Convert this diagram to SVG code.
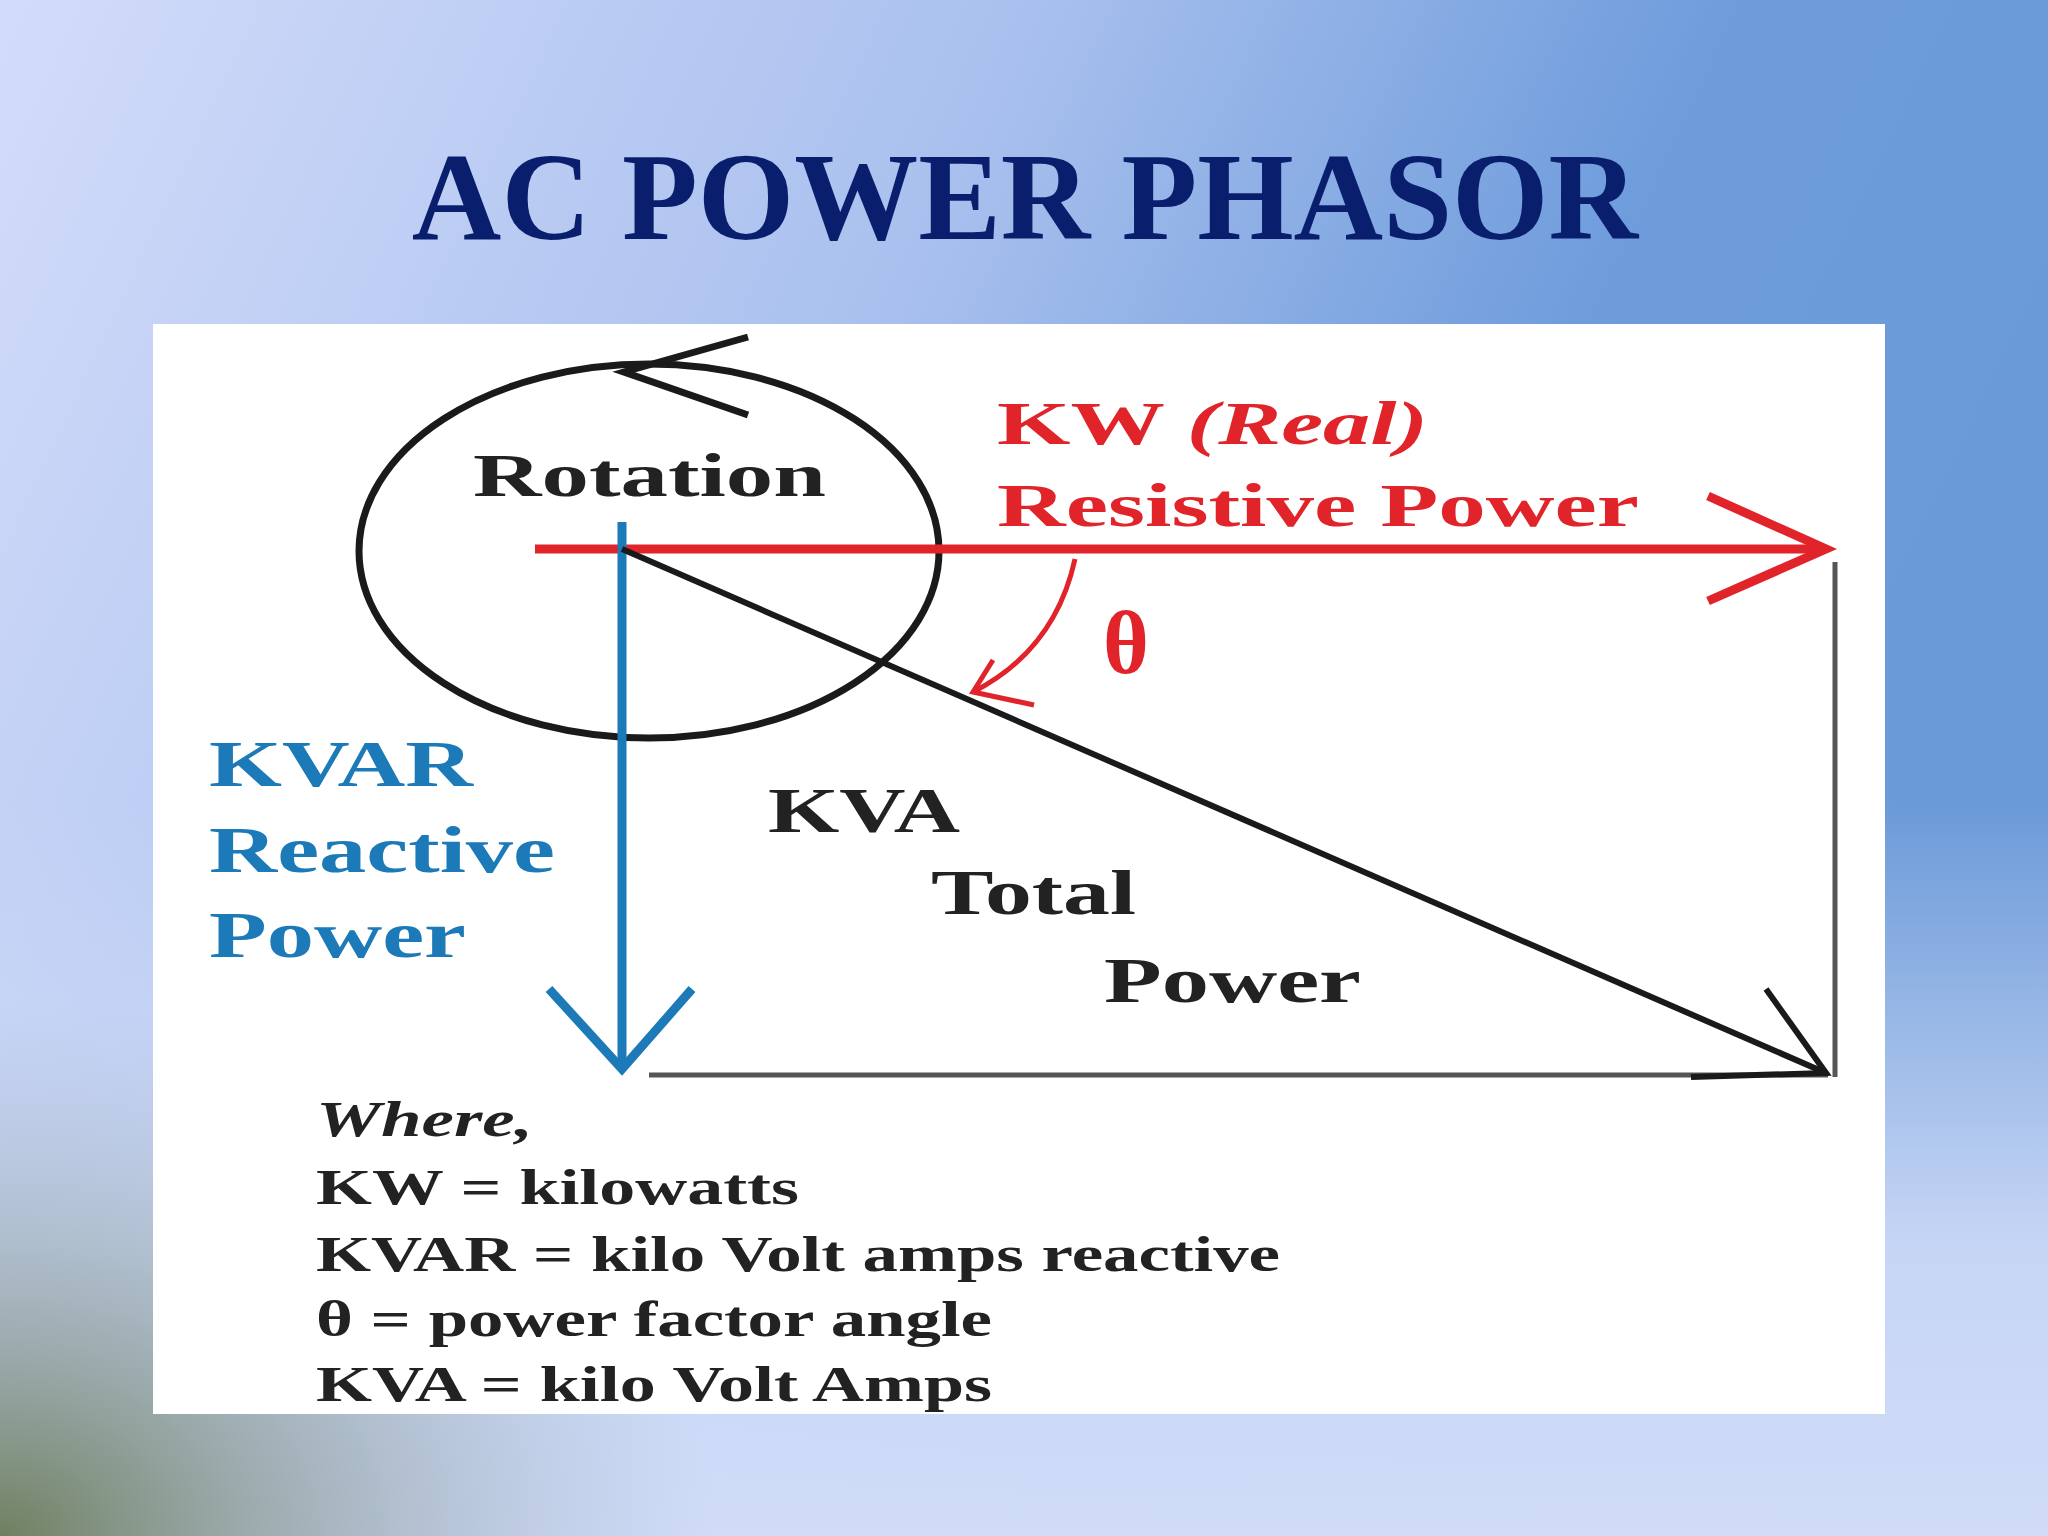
<svg xmlns="http://www.w3.org/2000/svg" width="2048" height="1536" viewBox="0 0 2048 1536">
<defs>
<linearGradient id="bg" x1="0" y1="0" x2="1" y2="0.35">
<stop offset="0" stop-color="#d3dcfa"/><stop offset="0.45" stop-color="#a9c0ee"/><stop offset="0.75" stop-color="#6f9ddc"/><stop offset="1" stop-color="#6b9ad8"/>
</linearGradient>
<linearGradient id="bot" x1="0" y1="0" x2="0" y2="1">
<stop offset="0" stop-color="#d0dcf8" stop-opacity="0"/><stop offset="0.6" stop-color="#d0dcf8" stop-opacity="0.9"/><stop offset="1" stop-color="#d0dcf8"/>
</linearGradient>
<radialGradient id="corner" cx="0" cy="1" r="0.35">
<stop offset="0" stop-color="#6f8060"/><stop offset="1" stop-color="#a0b0c8" stop-opacity="0"/>
</radialGradient>
<style>
.t{font-family:"Liberation Serif",serif;font-weight:bold}
.red{fill:#e0242a}.blue{fill:#1c7ab8}.blk{fill:#222}
</style>
</defs>
<rect width="2048" height="1536" fill="url(#bg)"/>
<rect y="800" width="2048" height="736" fill="url(#bot)"/>
<rect width="2048" height="1536" fill="url(#corner)"/>
<text x="1025" y="239" text-anchor="middle" class="t" font-size="124" fill="#0a1e6e">AC POWER PHASOR</text>
<rect x="153" y="324" width="1732" height="1090" fill="#fff"/>
<g id="rotation" fill="none" stroke="#1a1a1a" stroke-width="7">
<ellipse cx="649" cy="551" rx="290" ry="187"/>
<polyline points="748,337 624,372 748,415"/>
</g>
<g id="connectors" fill="none">
<line x1="1835" y1="562" x2="1835" y2="1077" stroke="#555" stroke-width="5"/>
<line x1="649" y1="1075" x2="1828" y2="1075" stroke="#555" stroke-width="5"/>
<g stroke="#e0242a" stroke-width="9">
<line x1="535" y1="549" x2="1826" y2="549"/>
<polyline points="1708,496 1826,549 1708,601"/>
</g>
<g stroke="#1c7ab8" stroke-width="9">
<line x1="622" y1="522" x2="622" y2="1069"/>
<polyline points="549,989 622,1069 692,989"/>
</g>
<g stroke="#1a1a1a" stroke-width="6">
<line x1="622" y1="549" x2="1826" y2="1073"/>
<polyline points="1766,989 1826,1073 1691,1077"/>
</g>
<g stroke="#e0242a" stroke-width="5">
<path d="M1075,559 Q1055,650 973,692"/>
<polyline points="993,660 973,692 1034,705"/>
</g>
</g>
<text x="1126" y="673" text-anchor="middle" class="t red" font-size="88">θ</text>
<g id="kw"><text x="997" y="444" class="t red" font-size="62" textLength="431" lengthAdjust="spacingAndGlyphs">KW <tspan font-style="italic">(Real)</tspan></text>
<text x="997" y="526" class="t red" font-size="62" textLength="642" lengthAdjust="spacingAndGlyphs">Resistive Power</text></g>
<text x="473" y="496" class="t blk" font-size="62" textLength="353" lengthAdjust="spacingAndGlyphs">Rotation</text>
<g id="kvar" class="t blue" font-size="66"><text x="209" y="786" textLength="264" lengthAdjust="spacingAndGlyphs">KVAR</text><text x="209" y="872" textLength="346" lengthAdjust="spacingAndGlyphs">Reactive</text><text x="209" y="957" textLength="257" lengthAdjust="spacingAndGlyphs">Power</text></g>
<g id="kva" class="t blk" font-size="64"><text x="768" y="832" textLength="192" lengthAdjust="spacingAndGlyphs">KVA</text><text x="931" y="914" textLength="205" lengthAdjust="spacingAndGlyphs">Total</text><text x="1104" y="1002" textLength="257" lengthAdjust="spacingAndGlyphs">Power</text></g>
<g id="legend" class="t blk" font-size="50">
<text x="316" y="1136" font-style="italic" textLength="217" lengthAdjust="spacingAndGlyphs">Where,</text>
<text x="316" y="1204" textLength="483" lengthAdjust="spacingAndGlyphs">KW = kilowatts</text>
<text x="316" y="1271" textLength="964" lengthAdjust="spacingAndGlyphs">KVAR = kilo Volt amps reactive</text>
<text x="316" y="1336" textLength="676" lengthAdjust="spacingAndGlyphs">θ = power factor angle</text>
<text x="316" y="1401" textLength="676" lengthAdjust="spacingAndGlyphs">KVA = kilo Volt Amps</text>
</g>
</svg>
